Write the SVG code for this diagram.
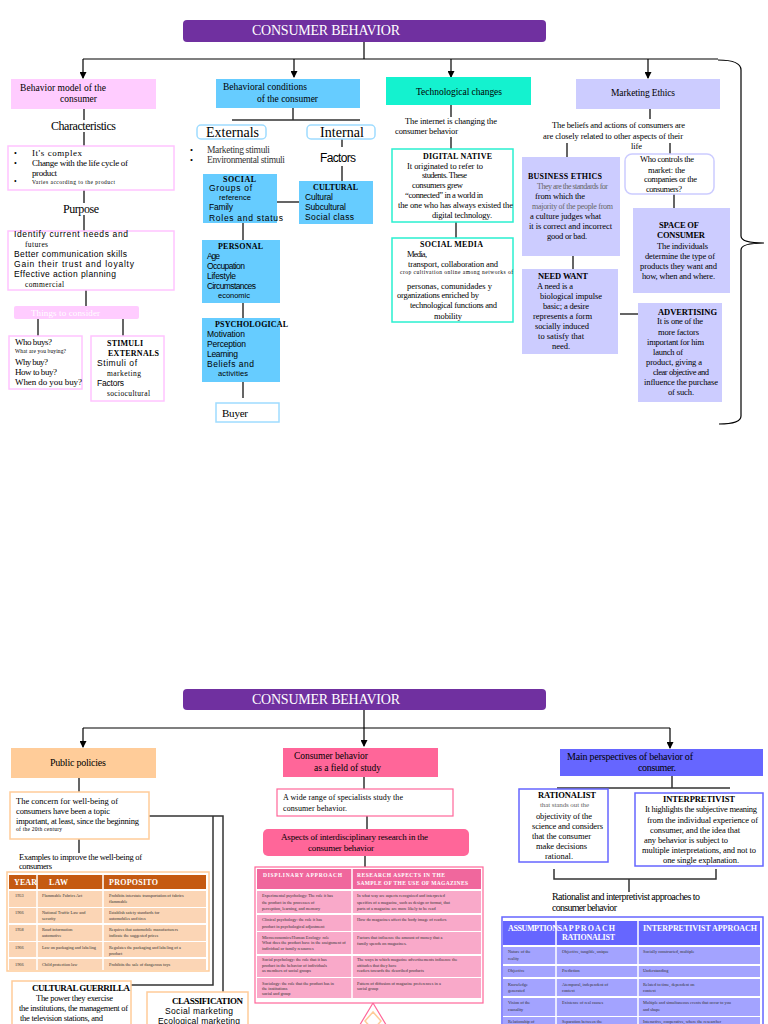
<svg xmlns="http://www.w3.org/2000/svg" width="768" height="1024" viewBox="0 0 768 1024">
<defs>
<marker id="ah" markerWidth="7" markerHeight="7" refX="6" refY="3.5" orient="auto" markerUnits="userSpaceOnUse">
<path d="M0,0 L7,3.5 L0,7 z" fill="#000"/>
</marker>
<style>
text{font-family:"Liberation Serif","Times New Roman",serif;fill:#000;font-size:8.5px}
.a{font-family:"Liberation Sans",Arial,sans-serif}
.b{font-weight:bold}
.w{fill:#fff}
.g{fill:#666}
.t{fill:#333;font-size:4.3px}
.f5{font-size:5.5px}
.f6{font-size:7.5px}
.f8{font-size:8px}
.f9{font-size:9px}
.f95{font-size:9.5px}
.f10{font-size:10px}
.f11{font-size:11px}
.f12{font-size:12px}
.f13{font-size:14px}
.ln{stroke:#000;stroke-width:1.2;fill:none}
.lg{stroke:#333;stroke-width:1.5;fill:none}
.pk{fill:#FFCCFF}
.pkb{fill:#fff;stroke:#FFC4FF;stroke-width:1.5}
.bl{fill:#66CCFF}
.blb{fill:#fff;stroke:#9FDCFF;stroke-width:1.5}
.cy{fill:#14F2CF}
.cyb{fill:#fff;stroke:#2AF0D0;stroke-width:1.5}
.lv{fill:#CCCCFF}
.or{fill:#FFCC99}
.orb{fill:#fff;stroke:#FFCC99;stroke-width:1.5}
.hp{fill:#FF6699}
.hpb{fill:#fff;stroke:#FF6699;stroke-width:1.2}
.vi{fill:#6666FF}
.vib{fill:#fff;stroke:#6666FF;stroke-width:1.5}
.pu{fill:#7030A0}
</style>
</defs>
<rect width="768" height="1024" fill="#fff"/>

<!-- ================= TOP DIAGRAM ================= -->
<g id="connectors-top">
<path class="ln" d="M364,42 V59"/>
<path class="ln" d="M83,59 H718"/>
<path class="ln" d="M83,59 V78" marker-end="url(#ah)"/>
<path class="ln" d="M294,59 V77" marker-end="url(#ah)"/>
<path class="ln" d="M451,59 V77" marker-end="url(#ah)"/>
<path class="ln" d="M648,59 V78" marker-end="url(#ah)"/>
<path class="ln" d="M718,60 Q741,60 741,70 L741,236 Q741,243 764,243 Q741,243 741,250 L741,416 Q741,424 719,424"/>
<path class="lg" d="M84,109 V120 M84,132 V146 M84,190 V203 M84,215 V231 M86,290 V306 M38,319 V336 M123,319 V336"/>
<path class="lg" d="M293,108 V120 M232,120 H360 M342,139 V147 M342,166 V181 M277,202 H299 M243,223 V240 M243,303 V318 M243,382 V398"/>
<path class="lg" d="M451,105 V117 M451,137 V149 M456,222 V238"/>
<path class="lg" d="M650,109 V119 M567,143 V157 M670,143 V155 M674,194 V208 M573,256 V269 M620,314 H638"/>
</g>

<g id="title-top">
<rect class="pu" x="183" y="20" width="363" height="22" rx="4"/>
<text class="w f13" x="252" y="35" textLength="148">CONSUMER BEHAVIOR</text>
</g>

<g id="behavior-model">
<rect class="pk" x="11" y="79" width="145" height="30"/>
<text class="f95" x="20" y="91" textLength="86">Behavior model of the</text>
<text class="f95" x="60" y="102" textLength="37">consumer</text>
</g>
<g id="characteristics-label"><text class="f12" x="51" y="130" textLength="65">Characteristics</text></g>
<g id="characteristics">
<rect class="pkb" x="8" y="146" width="166" height="44"/>
<text class="f8" x="14" y="156">•</text>
<text class="f8" x="14" y="166">•</text>
<text class="f6" x="14" y="184">•</text>
<text class="f9" x="32" y="156" textLength="50">It's complex</text>
<text class="f9" x="32" y="166" textLength="96">Change with the life cycle of</text>
<text class="f9" x="32" y="176" textLength="25">product</text>
<text class="f5" x="32" y="184" textLength="83">Varies according to the product</text>
</g>
<g id="purpose-label"><text class="f12" x="63" y="213" textLength="36">Purpose</text></g>
<g id="purpose">
<rect class="pkb" x="8" y="231" width="166" height="59"/>
<text class="a" x="14" y="237" textLength="114">Identify current needs and</text>
<text class="f6" x="25" y="247" textLength="23">futures</text>
<text class="a" x="14" y="257" textLength="113">Better communication skills</text>
<text class="a" x="14" y="267" textLength="120">Gain their trust and loyalty</text>
<text class="a" x="14" y="277" textLength="102">Effective action planning</text>
<text class="f6" x="25" y="287" textLength="39">commercial</text>
</g>
<g id="things">
<rect class="pk" x="14" y="306" width="125" height="13" rx="2"/>
<text class="w f9" x="31" y="316" textLength="69">Things to consider</text>
</g>
<g id="who-buys">
<rect class="pkb" x="9" y="336" width="73" height="53"/>
<text class="f9" x="15" y="345" textLength="37">Who buys?</text>
<text class="f5" x="15" y="353" textLength="51">What are you buying?</text>
<text class="f9" x="15" y="365" textLength="33">Why buy?</text>
<text class="f9" x="15" y="375" textLength="42">How to buy?</text>
<text class="f9" x="15" y="385" textLength="67">When do you buy?</text>
</g>
<g id="stimuli">
<rect class="pkb" x="91" y="336" width="73" height="65"/>
<text class="b f8" x="107" y="346" textLength="36">STIMULI</text>
<text class="b f8" x="108" y="356" textLength="51">EXTERNALS</text>
<text class="a" x="97" y="366" textLength="40">Stimuli of</text>
<text class="f6" x="107" y="376" textLength="34">marketing</text>
<text class="a" x="97" y="386" textLength="27">Factors</text>
<text class="f6" x="107" y="396" textLength="43">sociocultural</text>
</g>

<g id="behavioral-conditions">
<rect class="bl" x="216" y="79" width="144" height="29"/>
<text class="f95" x="223" y="90" textLength="84">Behavioral conditions</text>
<text class="f95" x="257" y="102" textLength="61">of the consumer</text>
</g>
<g id="externals">
<rect class="blb" x="197" y="125" width="69" height="14" rx="4"/>
<text class="f13" x="206" y="137" textLength="53">Externals</text>
<text x="190" y="153">•</text>
<text x="190" y="163">•</text>
<text style="fill:#333;font-size:9.5px" x="207" y="153" textLength="63">Marketing stimuli</text>
<text style="fill:#333;font-size:9.5px" x="207" y="163" textLength="78">Environmental stimuli</text>
</g>
<g id="internal">
<rect class="blb" x="307" y="125" width="68" height="14" rx="4"/>
<text class="f13" x="320" y="137" textLength="44">Internal</text>
</g>
<g id="factors-label"><text class="a f12" x="320" y="162" textLength="36">Factors</text></g>
<g id="social">
<rect class="bl" x="203" y="174" width="74" height="49"/>
<text class="b f8" x="223" y="182" textLength="33">SOCIAL</text>
<text class="a" x="209" y="191" textLength="43">Groups of</text>
<text class="a f6" x="219" y="200" textLength="32">reference</text>
<text class="a" x="209" y="210" textLength="24">Family</text>
<text class="a" x="209" y="221" textLength="74">Roles and status</text>
</g>
<g id="cultural">
<rect class="bl" x="299" y="181" width="74" height="43"/>
<text class="b f8" x="313" y="190" textLength="45">CULTURAL</text>
<text class="a" x="305" y="200" textLength="28">Cultural</text>
<text class="a" x="305" y="210" textLength="41">Subcultural</text>
<text class="a" x="305" y="220" textLength="49">Social class</text>
</g>
<g id="personal">
<rect class="bl" x="202" y="240" width="78" height="63"/>
<text class="b f8" x="218" y="249" textLength="45">PERSONAL</text>
<text class="a" x="207" y="259" textLength="13">Age</text>
<text class="a" x="207" y="269" textLength="38">Occupation</text>
<text class="a" x="207" y="279" textLength="29">Lifestyle</text>
<text class="a" x="207" y="289" textLength="49">Circumstances</text>
<text class="a f6" x="218" y="298" textLength="32">economic</text>
</g>
<g id="psychological">
<rect class="bl" x="202" y="318" width="78" height="64"/>
<text class="b f8" x="215" y="327" textLength="73">PSYCHOLOGICAL</text>
<text class="a" x="207" y="337" textLength="38">Motivation</text>
<text class="a" x="207" y="347" textLength="39">Perception</text>
<text class="a" x="207" y="357" textLength="31">Learning</text>
<text class="a" x="207" y="367" textLength="47">Beliefs and</text>
<text class="a f6" x="218" y="376" textLength="30">activities</text>
</g>
<g id="buyer">
<rect class="blb" x="216" y="403" width="63" height="19"/>
<text class="f11" x="222" y="417" textLength="26">Buyer</text>
</g>

<g id="technological">
<rect class="cy" x="386" y="77" width="145" height="28"/>
<text class="f95" x="416" y="95" textLength="86">Technological changes</text>
</g>
<g id="internet-label">
<text x="405" y="124" textLength="92">The internet is changing the</text>
<text x="395" y="134" textLength="63">consumer behavior</text>
</g>
<g id="digital-native">
<rect class="cyb" x="392" y="149" width="121" height="73"/>
<text class="b f8" x="423" y="159" textLength="69">DIGITAL NATIVE</text>
<text x="407" y="169" textLength="76">It originated to refer to</text>
<text x="422" y="178" textLength="45">students. These</text>
<text x="412" y="188" textLength="51">consumers grew</text>
<text x="405" y="198" textLength="78">“connected” in a world in</text>
<text x="398" y="208" textLength="115">the one who has always existed the</text>
<text x="432" y="218" textLength="60">digital technology.</text>
</g>
<g id="social-media">
<rect class="cyb" x="392" y="238" width="121" height="84"/>
<text class="b f8" x="420" y="247" textLength="63">SOCIAL MEDIA</text>
<text x="407" y="257" textLength="20">Media,</text>
<text x="408" y="267" textLength="90">transport, collaboration and</text>
<text class="f5" x="400" y="274" textLength="113">crop cultivation online among networks of</text>
<text x="407" y="289" textLength="85">personas, comunidades y</text>
<text x="397" y="298" textLength="82">organizations enriched by</text>
<text x="410" y="308" textLength="87">technological functions and</text>
<text x="434" y="319" textLength="28">mobility</text>
</g>

<g id="marketing-ethics">
<rect class="lv" x="576" y="79" width="144" height="30"/>
<text class="f95" x="611" y="96" textLength="64">Marketing Ethics</text>
</g>
<g id="beliefs-label">
<text x="552" y="128" textLength="133">The beliefs and actions of consumers are</text>
<text x="543" y="139" textLength="140">are closely related to other aspects of their</text>
<text x="631" y="149" textLength="11">life</text>
</g>
<g id="business-ethics">
<rect class="lv" x="522" y="157" width="98" height="99"/>
<text class="b f8" x="528" y="179" textLength="74">BUSINESS ETHICS</text>
<text class="g" style="font-size:8px" x="537" y="189" textLength="71">They are the standards for</text>
<text x="535" y="199" textLength="50">from which the</text>
<text class="g" style="font-size:8px" x="532" y="209" textLength="81">majority of the people from</text>
<text x="530" y="219" textLength="71">a culture judges what</text>
<text x="529" y="229" textLength="83">it is correct and incorrect</text>
<text x="547" y="239" textLength="40">good or bad.</text>
</g>
<g id="who-controls">
<rect x="625" y="154" width="89" height="40" rx="7" fill="#fff" stroke="#CCCCFF" stroke-width="1.5"/>
<text x="640" y="162" textLength="54">Who controls the</text>
<text x="648" y="173" textLength="37">market: the</text>
<text x="644" y="182" textLength="53">companies or the</text>
<text x="646" y="192" textLength="36">consumers?</text>
</g>
<g id="space-consumer">
<rect class="lv" x="633" y="208" width="97" height="85"/>
<text class="b" x="659" y="228" textLength="40">SPACE OF</text>
<text class="b" x="657" y="238" textLength="48">CONSUMER</text>
<text x="657" y="249" textLength="51">The individuals</text>
<text x="645" y="259" textLength="70">determine the type of</text>
<text x="640" y="269" textLength="77">products they want and</text>
<text x="642" y="279" textLength="73">how, when and where.</text>
</g>
<g id="need-want">
<rect class="lv" x="522" y="269" width="96" height="85"/>
<text class="b" x="538" y="279" textLength="50">NEED WANT</text>
<text x="537" y="289" textLength="36">A need is a</text>
<text x="540" y="299" textLength="62">biological impulse</text>
<text x="543" y="309" textLength="46">basic; a desire</text>
<text x="533" y="319" textLength="59">represents a form</text>
<text x="535" y="329" textLength="54">socially induced</text>
<text x="538" y="339" textLength="46">to satisfy that</text>
<text x="552" y="349" textLength="18">need.</text>
</g>
<g id="advertising">
<rect class="lv" x="638" y="303" width="84" height="99"/>
<text class="b" x="658" y="315" textLength="59">ADVERTISING</text>
<text x="657" y="324" textLength="46">It is one of the</text>
<text x="658" y="335" textLength="41">more factors</text>
<text x="647" y="345" textLength="57">important for him</text>
<text x="653" y="355" textLength="30">launch of</text>
<text x="646" y="365" textLength="56">product, giving a</text>
<text x="653" y="375" textLength="56">clear objective and</text>
<text x="644" y="385" textLength="74">influence the purchase</text>
<text x="668" y="395" textLength="26">of such.</text>
</g>

<!-- ================= BOTTOM DIAGRAM ================= -->
<g id="connectors-bottom">
<path class="ln" d="M364,710 V746" marker-end="url(#ah)"/>
<path class="ln" d="M83,728 H670"/>
<path class="ln" d="M83,728 V747" marker-end="url(#ah)"/>
<path class="ln" d="M670,728 V748" marker-end="url(#ah)"/>
<path class="lg" d="M79,778 V792 M79,839 V853"/>
<path class="lg" d="M149,816 H223 V992 M213,816 V985 H131"/>
<path class="lg" d="M364,777 V789 M367,816 V829 M365,856 V867"/>
<path class="lg" d="M672,776 V788 M557,788 H730 M554,869 V879 H716 V869 M629,879 V892"/>
</g>

<g id="title-bottom">
<rect class="pu" x="183" y="689" width="363" height="21" rx="4"/>
<text class="w f13" x="252" y="704" textLength="148">CONSUMER BEHAVIOR</text>
</g>

<g id="public-policies">
<rect class="or" x="11" y="748" width="145" height="30"/>
<text class="f10" x="50" y="766" textLength="56">Public policies</text>
</g>
<g id="concern">
<rect class="orb" x="10" y="792" width="139" height="47"/>
<text x="16" y="804" textLength="102">The concern for well-being of</text>
<text x="16" y="814" textLength="94">consumers have been a topic</text>
<text x="16" y="824" textLength="123">important, at least, since the beginning</text>
<text class="f5" x="16" y="831" textLength="46">of the 20th century</text>
</g>
<g id="examples-label">
<text x="19" y="860" textLength="123">Examples to improve the well-being of</text>
<text x="19" y="869" textLength="33">consumers</text>
</g>
<g id="law-table">
<rect class="orb" x="7" y="872" width="202" height="99"/>
<rect x="9" y="875" width="197" height="14" fill="#C55A11"/>
<rect x="9" y="891" width="197" height="16" fill="#FBD5B5"/>
<rect x="9" y="908" width="197" height="15" fill="#FBD5B5"/>
<rect x="9" y="925" width="197" height="16" fill="#FBD5B5"/>
<rect x="9" y="942" width="197" height="15" fill="#FBD5B5"/>
<rect x="9" y="959" width="197" height="11" fill="#FBD5B5"/>
<path d="M37,875 V970 M103,875 V970" stroke="#fff" stroke-width="1.5"/>
<text class="b w f8" x="14" y="885" textLength="23">YEAR</text>
<text class="b w f8" x="49" y="885" textLength="19">LAW</text>
<text class="b w f8" x="109" y="885" textLength="49">PROPOSITO</text>
<text class="t" x="15" y="897">1953</text>
<text class="t" x="42" y="897">Flammable Fabrics Act</text>
<text class="t" x="109" y="897">Prohibits interstate transportation of fabrics</text>
<text class="t" x="109" y="903">flammable</text>
<text class="t" x="15" y="914">1966</text>
<text class="t" x="42" y="914">National Traffic Law and</text>
<text class="t" x="42" y="920">security</text>
<text class="t" x="109" y="914">Establish safety standards for</text>
<text class="t" x="109" y="920">automobiles and tires</text>
<text class="t" x="15" y="931">1958</text>
<text class="t" x="42" y="931">Road information</text>
<text class="t" x="42" y="937">automotive</text>
<text class="t" x="109" y="931">Requires that automobile manufacturers</text>
<text class="t" x="109" y="937">indicate the suggested prices</text>
<text class="t" x="15" y="949">1966</text>
<text class="t" x="42" y="949">Law on packaging and labeling</text>
<text class="t" x="109" y="949">Regulates the packaging and labeling of a</text>
<text class="t" x="109" y="955">product</text>
<text class="t" x="15" y="966">1966</text>
<text class="t" x="42" y="966">Child protection law</text>
<text class="t" x="109" y="966">Prohibits the sale of dangerous toys</text>
</g>
<g id="cultural-guerrilla">
<rect class="orb" x="12" y="981" width="119" height="50"/>
<text class="b f9" x="32" y="991" textLength="98">CULTURAL GUERRILLA</text>
<text x="36" y="1001" textLength="77">The power they exercise</text>
<text x="19" y="1011" textLength="109">the institutions, the management of</text>
<text x="20" y="1021" textLength="83">the television stations, and</text>
</g>
<g id="classification">
<rect class="orb" x="147" y="992" width="101" height="40"/>
<text class="b f9" x="172" y="1004" textLength="71">CLASSIFICATION</text>
<text class="a" x="165" y="1014" textLength="68">Social marketing</text>
<text class="a" x="158" y="1024" textLength="82">Ecological marketing</text>
</g>

<g id="field-of-study">
<rect class="hp" x="283" y="748" width="155" height="29"/>
<text class="f95" x="294" y="759" textLength="74">Consumer behavior</text>
<text class="f95" x="314" y="771" textLength="67">as a field of study</text>
</g>
<g id="specialists">
<rect class="hpb" x="277" y="789" width="176" height="27"/>
<text class="f8" x="283" y="800" textLength="120">A wide range of specialists study the</text>
<text class="f8" x="283" y="811" textLength="64">consumer behavior.</text>
</g>
<g id="aspects">
<rect class="hp" x="263" y="829" width="206" height="27" rx="5"/>
<text class="f9" x="281" y="840" textLength="147">Aspects of interdisciplinary research in the</text>
<text class="f9" x="308" y="851" textLength="66">consumer behavior</text>
</g>
<g id="research-table">
<rect class="hpb" x="255" y="867" width="228" height="136"/>
<rect x="257" y="869" width="224" height="20" fill="#F0679D"/>
<rect x="257" y="891" width="224" height="22" fill="#F9A9C9"/>
<rect x="257" y="915" width="224" height="16" fill="#F9A9C9"/>
<rect x="257" y="932" width="224" height="22" fill="#F9A9C9"/>
<rect x="257" y="956" width="224" height="21" fill="#F9A9C9"/>
<rect x="257" y="978" width="224" height="20" fill="#F9A9C9"/>
<path d="M352,869 V998" stroke="#fff" stroke-width="1.5"/>
<text class="b w f5" x="263" y="877" textLength="79">DISPLINARY APPROACH</text>
<text class="b w f5" x="357" y="877" textLength="88">RESEARCH ASPECTS IN THE</text>
<text class="b w f5" x="357" y="885" textLength="111">SAMPLE OF THE USE OF MAGAZINES</text>
<text class="t" x="262" y="897">Experimental psychology: The role it has</text>
<text class="t" x="262" y="904">the product in the processes of</text>
<text class="t" x="262" y="910">perception, learning, and memory</text>
<text class="t" x="357" y="897">In what way are aspects recognized and interpreted</text>
<text class="t" x="357" y="904">specifics of a magazine, such as design or format, that</text>
<text class="t" x="357" y="910">parts of a magazine are more likely to be read</text>
<text class="t" x="262" y="921">Clinical psychology: the role it has</text>
<text class="t" x="262" y="928">product in psychological adjustment</text>
<text class="t" x="357" y="921">How do magazines affect the body image of readers</text>
<text class="t" x="262" y="939">Microeconomics/Human Ecology: role</text>
<text class="t" x="262" y="944">What does the product have in the assignment of</text>
<text class="t" x="262" y="950">individual or family resources</text>
<text class="t" x="357" y="939">Factors that influence the amount of money that a</text>
<text class="t" x="357" y="945">family spends on magazines.</text>
<text class="t" x="262" y="961">Social psychology: the role that it has</text>
<text class="t" x="262" y="967">product in the behavior of individuals</text>
<text class="t" x="262" y="972">as members of social groups</text>
<text class="t" x="357" y="961">The ways in which magazine advertisements influence the</text>
<text class="t" x="357" y="967">attitudes that they have</text>
<text class="t" x="357" y="972">readers towards the described products</text>
<text class="t" x="262" y="985">Sociology: the role that the product has in</text>
<text class="t" x="262" y="990">the institutions</text>
<text class="t" x="262" y="995">social and group</text>
<text class="t" x="357" y="985">Pattern of diffusion of magazine preferences in a</text>
<text class="t" x="357" y="990">social group</text>
</g>
<g id="triangle">
<path d="M373,1003 L358,1028 M373,1003 L388,1028" stroke="#FF6699" stroke-width="1.2" fill="none"/>
<path d="M373,1012 L365,1021 L373,1030 L381,1021 Z" stroke="#FFCC99" stroke-width="1.5" fill="none"/>
</g>

<g id="main-perspectives">
<rect class="vi" x="560" y="749" width="203" height="27"/>
<text class="f10" x="567" y="760" textLength="126">Main perspectives of behavior of</text>
<text class="f10" x="638" y="771" textLength="38">consumer.</text>
</g>
<g id="rationalist">
<rect class="vib" x="519" y="789" width="89" height="73"/>
<text class="b" x="538" y="798" textLength="58">RATIONALIST</text>
<text class="g" style="font-size:7px" x="540" y="807" textLength="49">that stands out the</text>
<text x="536" y="819" textLength="56">objectivity of the</text>
<text x="532" y="829" textLength="71">science and considers</text>
<text x="532" y="839" textLength="59">that the consumer</text>
<text x="536" y="849" textLength="51">make decisions</text>
<text x="545" y="859" textLength="28">rational.</text>
</g>
<g id="interpretivist">
<rect class="vib" x="635" y="793" width="128" height="73"/>
<text class="b" x="663" y="802" textLength="72">INTERPRETIVIST</text>
<text x="645" y="812" textLength="112">It highlights the subjective meaning</text>
<text x="647" y="823" textLength="111">from the individual experience of</text>
<text x="650" y="833" textLength="90">consumer, and the idea that</text>
<text x="644" y="843" textLength="84">any behavior is subject to</text>
<text x="642" y="853" textLength="114">multiple interpretations, and not to</text>
<text x="663" y="863" textLength="76">one single explanation.</text>
</g>
<g id="approaches-label">
<text class="f10" x="552" y="900" textLength="148">Rationalist and interpretivist approaches to</text>
<text class="f10" x="552" y="911" textLength="65">consumer behavior</text>
</g>
<g id="approach-table">
<rect class="vib" x="502" y="917" width="261" height="115"/>
<rect x="503" y="921" width="257" height="24" fill="#6666FF"/>
<rect x="503" y="947" width="257" height="17" fill="#A3A3FF"/>
<rect x="503" y="966" width="257" height="11" fill="#A3A3FF"/>
<rect x="503" y="979" width="257" height="17" fill="#A3A3FF"/>
<rect x="503" y="998" width="257" height="18" fill="#A3A3FF"/>
<rect x="503" y="1017" width="257" height="10" fill="#A3A3FF"/>
<path d="M556,921 V1027 M638,921 V1027" stroke="#fff" stroke-width="1.5"/>
<text class="b w f8" x="508" y="931" textLength="54">ASSUMPTIONS</text>
<text class="b w f8" x="562" y="931" textLength="53">APPROACH</text>
<text class="b w f8" x="562" y="940" textLength="53">RATIONALIST</text>
<text class="b w f8" x="643" y="931" textLength="114">INTERPRETIVIST APPROACH</text>
<text class="t" x="508" y="953">Nature of the</text>
<text class="t" x="508" y="960">reality</text>
<text class="t" x="562" y="953">Objective, tangible, unique</text>
<text class="t" x="643" y="953">Socially constructed, multiple</text>
<text class="t" x="508" y="972">Objective</text>
<text class="t" x="562" y="972">Prediction</text>
<text class="t" x="643" y="972">Understanding</text>
<text class="t" x="508" y="986">Knowledge</text>
<text class="t" x="508" y="992">generated</text>
<text class="t" x="562" y="986">Atemporal, independent of</text>
<text class="t" x="562" y="992">context</text>
<text class="t" x="643" y="986">Related to time, dependent on</text>
<text class="t" x="643" y="992">context</text>
<text class="t" x="508" y="1004">Vision of the</text>
<text class="t" x="508" y="1011">causality</text>
<text class="t" x="562" y="1004">Existence of real causes</text>
<text class="t" x="643" y="1004">Multiple and simultaneous events that occur to you</text>
<text class="t" x="643" y="1011">and shape</text>
<text class="t" x="508" y="1023">Relationship of</text>
<text class="t" x="562" y="1023">Separation between the</text>
<text class="t" x="643" y="1023">Interactive, cooperative, where the researcher</text>
</g>
</svg>
